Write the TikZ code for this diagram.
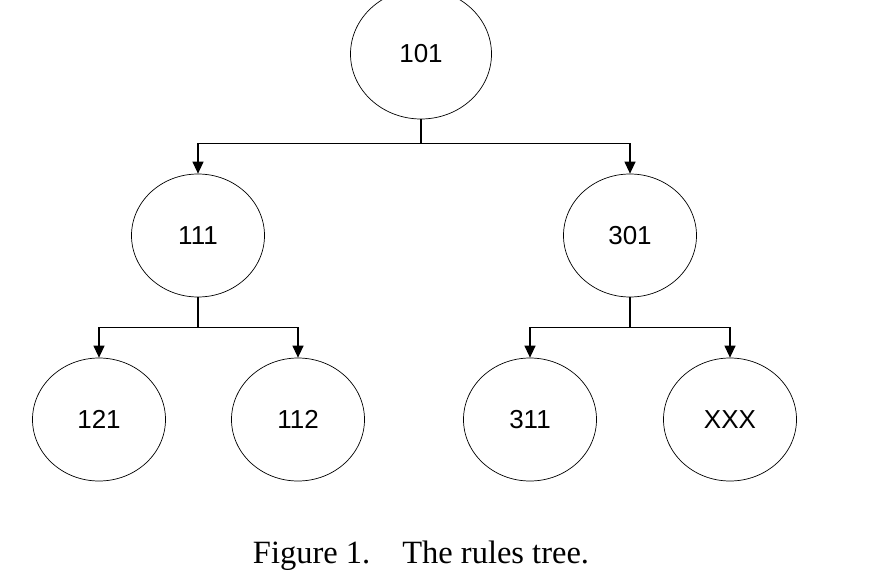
\documentclass[tikz,border=0pt]{standalone}
\usepackage{fontspec}
\setmainfont{Liberation Serif}
\setsansfont{Liberation Sans}
\usetikzlibrary{shapes.geometric,arrows.meta,positioning,calc}

\begin{document}
\begin{tikzpicture}[x=1pt,y=-1pt,
    rulenode/.style={ellipse, draw, line width=0.7pt, minimum width=133pt, minimum height=123pt, inner sep=0pt, font=\sffamily\fontsize{26}{26}\selectfont},
    tip/.style={line width=1.2pt, -{Triangle[width=11pt,length=12pt]}}]
      \useasboundingbox (0,0) rectangle (877,585);
      % nodes
      \node[rulenode, minimum width=141pt, minimum height=130pt] (r101) at (421,54) {101};
      \node[rulenode] (r111) at (198,235.5) {111};
      \node[rulenode] (r301) at (630,235.5) {301};
      \node[rulenode] (r121) at (99,419.5) {121};
      \node[rulenode] (r112) at (298,419.5) {112};
      \node[rulenode] (r311) at (530,419.5) {311};
      \node[rulenode] (rxxx) at (730,419.5) {XXX};
      % connectors
      \draw[tip] (r101.south) -- ++(0,24) -| (r111.north);
      \draw[tip] (r101.south) -- ++(0,24) -| (r301.north);
      \draw[tip] (r111.south) -- ++(0,30) -| (r121.north);
      \draw[tip] (r111.south) -- ++(0,30) -| (r112.north);
      \draw[tip] (r301.south) -- ++(0,30) -| (r311.north);
      \draw[tip] (r301.south) -- ++(0,30) -| (rxxx.north);
      % caption
      \node[font=\fontsize{32.5}{32.5}\selectfont, anchor=base] (caption) at (421,563) {Figure 1.\hspace{32pt}The rules tree.};
\end{tikzpicture}
\end{document}
